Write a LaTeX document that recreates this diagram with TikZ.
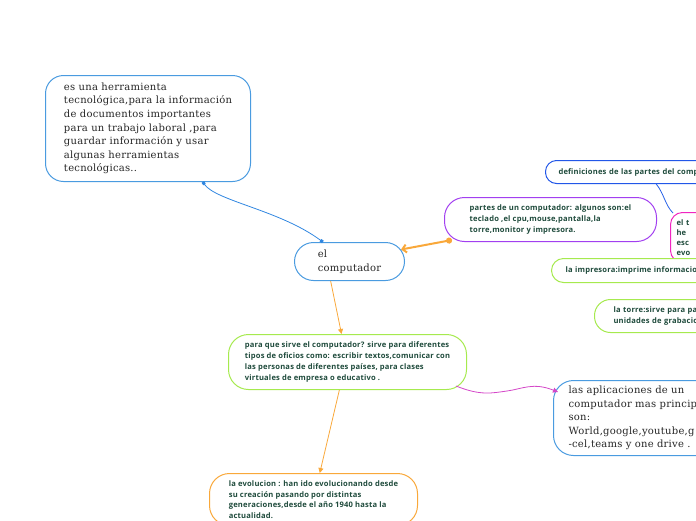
\documentclass[tikz,border=0pt]{standalone}
\usepackage{fontspec}
\setmainfont{DejaVu Serif}[LetterSpace=2.5]
\newfontfamily\mapsans{Open Sans}[LetterSpace=2.5]
\usetikzlibrary{arrows.meta, calc, positioning}
\definecolor{ideablue}{HTML}{4A9BE0}
\definecolor{linkblue}{HTML}{2F86E0}
\definecolor{defblue}{HTML}{2257E8}
\definecolor{partpurple}{HTML}{A23FF0}
\definecolor{topicpink}{HTML}{F025C0}
\definecolor{limegreen}{HTML}{A6EA4E}
\definecolor{linkorange}{HTML}{F9A83A}
\definecolor{linkpink}{HTML}{D447C8}
\definecolor{notegreen}{HTML}{1F4B3C}

\begin{document}
\begin{tikzpicture}[x=1pt, y=-1pt,
  every node/.style={align=left, inner sep=0pt, anchor=north west},
  bigtopic/.style={draw=ideablue, line width=1pt, rounded corners=18pt, fill=white,
    font=\fontsize{10}{13.6}\selectfont, text=black!85},
  subtopic/.style={line width=1pt, rounded corners=12pt, fill=white,
    font=\mapsans\bfseries\fontsize{7.6}{11.3}\selectfont, text=notegreen},
  link/.style={line width=0.8pt}]
\useasboundingbox (0,0) rectangle (696,520);
\clip (0,0) rectangle (696,520);

% central idea and its description
\node (que) [bigtopic, minimum width=205pt, minimum height=106pt] at (45,75)
  {es una herramienta\\tecnológica,para la información\\de documentos importantes\\para un trabajo laboral ,para\\guardar información y usar\\algunas herramientas\\tecnológicas..};
\node (comp) [bigtopic, rounded corners=19pt, minimum width=110pt, minimum height=38pt] at (294,242)
  {el\\computador};

% right branch
\node (partes) [subtopic, draw=partpurple, rounded corners=20pt, minimum width=212pt, minimum height=44pt] at (444,197)
  {partes de un computador: algunos son:el\\teclado ,el cpu,mouse,pantalla,la\\torre,monitor y impresora.};
\node (defs) [subtopic, draw=defblue, rounded corners=11pt, inner xsep=13pt, text width=200pt, minimum height=23pt] at (545,160)
  {definiciones de las partes del comp};
\node (teclado) [subtopic, draw=topicpink, inner xsep=6pt, text width=200pt, minimum height=50pt, font=\mapsans\bfseries\fontsize{7.6}{10.2}\selectfont] at (670,212)
  {el t\\he\\esc\\evo};
\node (impresora) [subtopic, draw=limegreen, inner xsep=14pt, text width=200pt, minimum height=24pt] at (551,258)
  {la impresora:imprime informacio};
\node (torre) [subtopic, draw=limegreen, rounded corners=16pt, inner xsep=19pt, text width=200pt, minimum height=33pt] at (594,299)
  {la torre:sirve para pa\\unidades de grabacio};

% lower branch
\node (sirve) [subtopic, draw=limegreen, rounded corners=20pt, minimum width=238pt, minimum height=55pt] at (228,334)
  {para que sirve el computador? sirve para diferentes\\tipos de oficios como: escribir textos,comunicar con\\las personas de diferentes países, para clases\\virtuales de empresa o educativo .};
\node (aplic) [bigtopic, rounded corners=20pt, inner xsep=15pt, text width=200pt, minimum height=75pt] at (553,380)
  {las aplicaciones de un\\computador mas princip\\son:\\World,google,youtube,g\\-cel,teams y one drive .};
\node (evol) [subtopic, draw=linkorange, rounded corners=20pt, minimum width=208pt, minimum height=52pt, font=\mapsans\bfseries\fontsize{7.6}{10.5}\selectfont] at (209,473)
  {la evolucion : han ido evolucionando desde\\su creación pasando por distintas\\generaciones,desde el año 1940 hasta la\\actualidad.};

% connectors
\draw[link, linkblue, {Square[length=3pt,width=3pt]}-{Square[length=3pt,width=3pt]}]
  ($(que.south west)!0.766!(que.south east)$) .. controls +(13,19) and +(-43,-32) .. ($(comp.north west)!0.26!(comp.north east)$);
\draw[linkorange, line width=2pt, {Straight Barb[length=4pt,width=8pt]}-{Circle[length=6pt]}]
  ($(comp.east)+(-4,-12)$) -- ($(partes.south west)+(8,-2)$);
\draw[link, linkorange, -{Triangle[length=5pt,width=5pt]}]
  ($(comp.south west)!0.33!(comp.south east)$) -- ($(sirve.north west)!0.475!(sirve.north east)$);
\draw[link, linkorange, -{Triangle[length=5pt,width=5pt]}]
  ($(sirve.south west)!0.466!(sirve.south east)$) -- ($(evol.north west)!0.53!(evol.north east)$);
\draw[link, linkpink, -{Triangle[length=5pt,width=5pt]}]
  ($(sirve.south east)+(-11,-4)$) .. controls +(25,10) and +(-15,2) .. (507,391)
  .. controls +(15,-2) and +(-25,-10) .. ($(aplic.north west)+(5,12)$);
\draw[link, defblue!80!linkblue]
  ($(defs.south west)!0.49!(defs.south east)$) .. controls +(8,10) and +(-8,-8) .. ($(teclado.north west)+(3,1)$);
\end{tikzpicture}
\end{document}
